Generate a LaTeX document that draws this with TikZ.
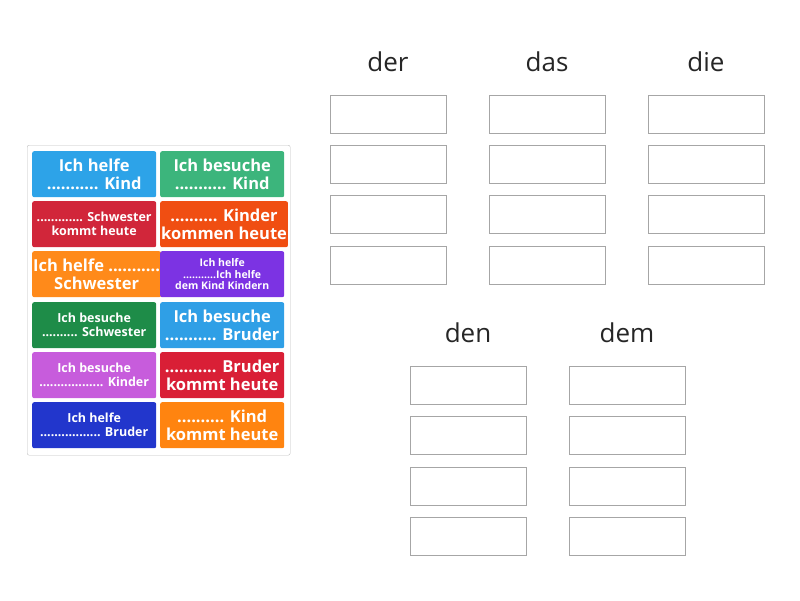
\documentclass[tikz,border=0pt]{standalone}
\usepackage{fontspec}
\setmainfont{Open Sans}
\begin{document}
\begin{tikzpicture}[x=1pt,y=-1pt,
  tile/.style={rounded corners=2pt,minimum width=124pt,minimum height=46pt,inner sep=1pt,text=white,font=\bfseries,align=center,anchor=north west},
  big/.style={font=\fontsize{16.5}{18.5}\selectfont\bfseries},
  small/.style={font=\fontsize{12.5}{14}\selectfont\bfseries},
  tiny/.style={font=\fontsize{10.5}{11.5}\selectfont\bfseries},
  slot/.style={draw=black!35,line width=0.6pt,minimum width=116pt,minimum height=38pt,anchor=north west,inner sep=0pt},
  head/.style={font=\fontsize{26}{28}\selectfont,text=black!85}]
\useasboundingbox (0,0) rectangle (800,600);
\definecolor{c1}{HTML}{2DA3E8}\definecolor{c2}{HTML}{3CB57C}
\definecolor{c3}{HTML}{D1263A}\definecolor{c4}{HTML}{F04E12}
\definecolor{c5}{HTML}{FF8A1A}\definecolor{c6}{HTML}{7C33E3}
\definecolor{c7}{HTML}{1E8C48}\definecolor{c8}{HTML}{2F9FE6}
\definecolor{c9}{HTML}{C75CDC}\definecolor{c10}{HTML}{D91F36}
\definecolor{c11}{HTML}{2236CC}\definecolor{c12}{HTML}{FF8410}
\node[draw=black!25,rounded corners=2pt,minimum width=263pt,minimum height=310pt,anchor=north west,inner sep=0pt] (panel) at (27,145) {};
\node[tile,fill=c1,big] (t1) at (32,151) {Ich helfe\\........... Kind};
\node[tile,fill=c2,big] (t2) at (160,151) {Ich besuche\\........... Kind};
\node[tile,fill=c3,small] (t3) at (32,201) {............. Schwester\\kommt heute};
\node[tile,fill=c4,big] (t4) at (160,201) {.......... Kinder\\kommen heute};
\node[tile,fill=c5,big] (t5) at (32,251) {Ich helfe ...........\\Schwester};
\node[tile,fill=c6,tiny] (t6) at (160,251) {Ich helfe\\...........Ich helfe\\dem Kind Kindern};
\node[tile,fill=c7,small] (t7) at (32,302) {Ich besuche\\.......... Schwester};
\node[tile,fill=c8,big] (t8) at (160,302) {Ich besuche\\........... Bruder};
\node[tile,fill=c9,small] (t9) at (32,352) {Ich besuche\\.................. Kinder};
\node[tile,fill=c10,big] (t10) at (160,352) {........... Bruder\\kommt heute};
\node[tile,fill=c11,small] (t11) at (32,402) {Ich helfe\\................. Bruder};
\node[tile,fill=c12,big] (t12) at (160,402) {.......... Kind\\kommt heute};
\node[head] (hder) at (388,62) {der};
\node[head] (hdas) at (547,62) {das};
\node[head] (hdie) at (706,62) {die};
\node[head] (hden) at (468,333) {den};
\node[head] (hdem) at (627,333) {dem};
\foreach \c/\x in {a/330,b/489,c/648}
  \foreach \r/\y in {1/95,2/145,3/195,4/246}
    \node[slot] (s\c\r) at (\x,\y) {};
\foreach \c/\x in {d/410,e/569}
  \foreach \r/\y in {1/366,2/416,3/467,4/517}
    \node[slot] (s\c\r) at (\x,\y) {};
\end{tikzpicture}
\end{document}
